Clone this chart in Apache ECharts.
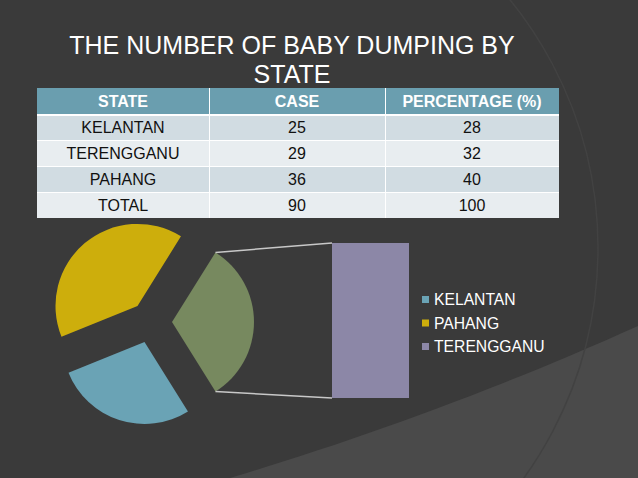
<!DOCTYPE html>
<html>
<head>
<meta charset="utf-8">
<script src="https://cdn.jsdelivr.net/npm/echarts@6/dist/echarts.min.js"></script>
<style>
html,body{margin:0;padding:0;background:#3a3a3a;}
#c{width:638px;height:478px;}
</style>
</head>
<body>
<div id="c"></div>
<script>
// ---- data ----
const titleLines = ['THE NUMBER OF BABY DUMPING BY', 'STATE'];
const tableHeaders = ['STATE', 'CASE', 'PERCENTAGE (%)'];
const states = ['KELANTAN', 'TERENGGANU', 'PAHANG', 'TOTAL'];
const cases = [25, 29, 36, 90];
const percentages = [28, 32, 40, 100];
const pieNames = ['Other', 'KELANTAN', 'PAHANG'];
const pieValues = [29, 25, 36];
const barNames = ['TERENGGANU'];
const barValues = [29];
const legendNames = ['KELANTAN', 'PAHANG', 'TERENGGANU'];

// ---- styles / layout ----
const FONT = '"Liberation Sans", Arial, sans-serif';
const pieColors = ['#77895F', '#6AA3B5', '#CDAE0C'];
const barColor = '#8C87A7';
const pieCenter = [151, 322];
const pieRadius = 82;
const pieOffset = 21;
const startAngle = 58;
const grid = {left: 332, top: 243, width: 77, height: 155};

const colEdges = [37, 209, 385, 559];
const rowEdges = [88, 114, 140, 166, 192, 218];
const headerColor = '#6A9EAF';
const rowColors = ['#D1DCE2', '#E8EDF0'];

const chart = echarts.init(document.getElementById('c'), null, {renderer: 'svg'});

// decorative lighter band (bottom right), as a polygon along a quadratic curve
const bandPts = [];
const P0 = [230, 478], P1 = [440, 415], P2 = [638, 326];
for (let i = 0; i <= 24; i++) {
  const t = i / 24;
  bandPts.push([
    (1 - t) * (1 - t) * P0[0] + 2 * (1 - t) * t * P1[0] + t * t * P2[0],
    (1 - t) * (1 - t) * P0[1] + 2 * (1 - t) * t * P1[1] + t * t * P2[1]
  ]);
}
bandPts.push([638, 478]);

const graphics = [];
graphics.push({
  id: 'bgLight', type: 'polygon', z: 0, silent: true,
  shape: {points: bandPts},
  style: {fill: '#4a4a4a'}
});
graphics.push({
  id: 'bgArc', type: 'circle', z: 0, silent: true,
  shape: {cx: 204, cy: 248, r: 394},
  style: {fill: 'none', stroke: '#424242', lineWidth: 1.5}
});
// table
graphics.push({
  id: 'tblBg', type: 'rect', z: 10, silent: true,
  shape: {x: colEdges[0], y: rowEdges[0], width: colEdges[3] - colEdges[0], height: rowEdges[5] - rowEdges[0]},
  style: {fill: '#ffffff'}
});
const tableRows = [tableHeaders].concat(states.map((s, i) => [s, String(cases[i]), String(percentages[i])]));
tableRows.forEach((row, r) => {
  row.forEach((txt, c) => {
    const x0 = colEdges[c] + (c > 0 ? 1 : 0);
    const y0 = rowEdges[r] + (r > 0 ? (r === 1 ? 2 : 1) : 0);
    const x1 = colEdges[c + 1];
    const y1 = rowEdges[r + 1];
    graphics.push({
      id: 'cell' + r + '_' + c, type: 'rect', z: 11, silent: true,
      shape: {x: x0, y: y0, width: x1 - x0, height: y1 - y0},
      style: {fill: r === 0 ? headerColor : rowColors[(r - 1) % 2]}
    });
    graphics.push({
      id: 'txt' + r + '_' + c, type: 'text', z: 12, silent: true,
      x: (colEdges[c] + colEdges[c + 1]) / 2, y: (rowEdges[r] + rowEdges[r + 1]) / 2 + 0.5,
      style: {
        text: txt, fill: r === 0 ? '#ffffff' : '#111111',
        font: (r === 0 ? 'bold ' : '') + '16px ' + FONT,
        textAlign: 'center', textVerticalAlign: 'middle'
      }
    });
  });
});

chart.setOption({
  animation: false,
  backgroundColor: '#3a3a3a',
  title: {
    text: titleLines.join('\n'),
    left: 292, top: 30, textAlign: 'center', padding: 0,
    textStyle: {color: '#ffffff', fontFamily: FONT, fontSize: 25, fontWeight: 'normal', lineHeight: 29}
  },
  legend: {
    data: legendNames,
    orient: 'vertical', left: 422, top: 291, padding: 0,
    itemWidth: 7, itemHeight: 7, itemGap: 6.5, icon: 'rect',
    textStyle: {color: '#ffffff', fontFamily: FONT, fontSize: 15.7, lineHeight: 17},
    selectedMode: false
  },
  grid: grid,
  xAxis: {type: 'category', data: barNames, show: false},
  yAxis: {type: 'value', min: 0, max: barValues[0], show: false},
  graphic: graphics,
  series: [
    {
      type: 'pie',
      name: 'cases',
      center: pieCenter,
      radius: [0, pieRadius],
      startAngle: startAngle,
      clockwise: true,
      selectedMode: 'multiple',
      selectedOffset: pieOffset,
      label: {show: false},
      labelLine: {show: false},
      emphasis: {disabled: true, scale: false},
      itemStyle: {borderWidth: 0},
      data: pieNames.map((n, i) => ({
        name: n, value: pieValues[i], selected: true,
        itemStyle: {color: pieColors[i], borderWidth: 0},
        select: {itemStyle: {color: pieColors[i], borderWidth: 0}}
      }))
    },
    {
      type: 'bar',
      name: barNames[0],
      data: barValues,
      barWidth: '100%',
      itemStyle: {color: barColor},
      emphasis: {disabled: true}
    }
  ]
});

// connector lines from the broken-out slice to the bar
const total = pieValues.reduce((a, b) => a + b, 0);
const sweep = 360 * pieValues[0] / total;
const a0 = startAngle * Math.PI / 180;
const a1 = (startAngle - sweep) * Math.PI / 180;
const mid = (a0 + a1) / 2;
const cx = pieCenter[0] + pieOffset * Math.cos(mid);
const cy = pieCenter[1] - pieOffset * Math.sin(mid);
const pTop = [cx + pieRadius * Math.cos(a0), cy - pieRadius * Math.sin(a0)];
const pBot = [cx + pieRadius * Math.cos(a1), cy - pieRadius * Math.sin(a1)];
const barTopPx = chart.convertToPixel({gridIndex: 0}, [0, barValues[0]]);
const barBotPx = chart.convertToPixel({gridIndex: 0}, [0, 0]);
const barLeft = grid.left;
chart.setOption({
  graphic: [
    {id: 'conTop', type: 'line', z: 5, silent: true,
     shape: {x1: pTop[0], y1: pTop[1], x2: barLeft, y2: barTopPx[1]},
     style: {stroke: '#c8c8c8', lineWidth: 1.5}},
    {id: 'conBot', type: 'line', z: 5, silent: true,
     shape: {x1: pBot[0], y1: pBot[1], x2: barLeft, y2: barBotPx[1]},
     style: {stroke: '#c8c8c8', lineWidth: 1.5}}
  ]
});
</script>
</body>
</html>
